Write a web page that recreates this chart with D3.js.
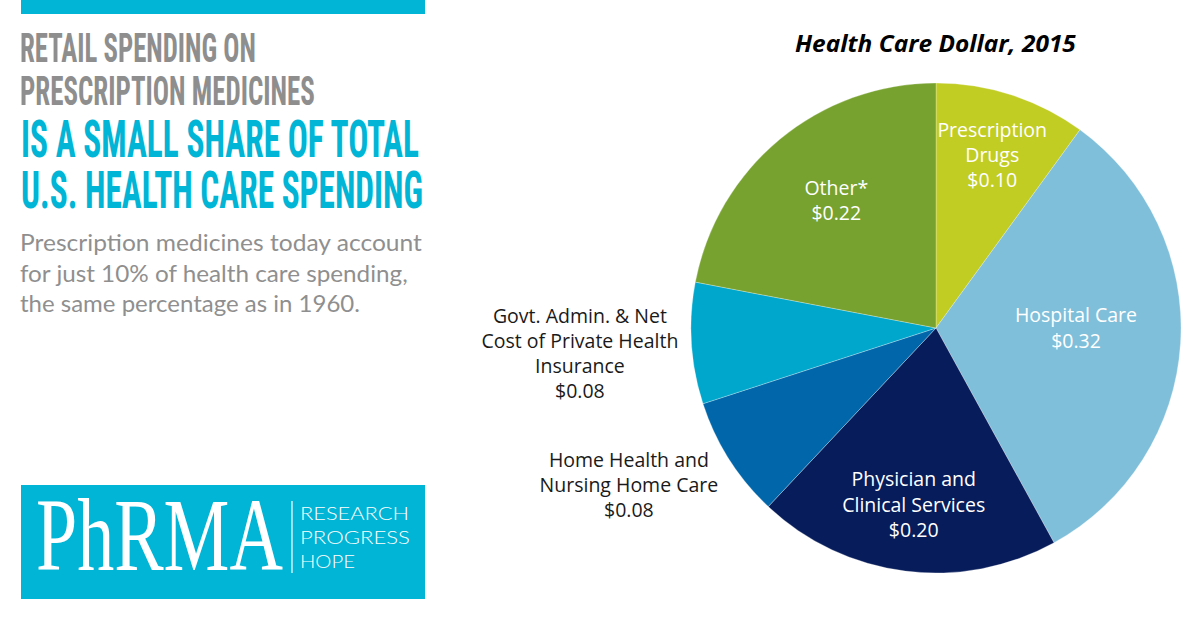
<!DOCTYPE html>
<html>
<head>
<meta charset="utf-8">
<script src="https://cdn.jsdelivr.net/npm/d3@7"></script>
<style>
  html, body { margin: 0; padding: 0; background: #ffffff; }
  svg { display: block; }
</style>
</head>
<body>
<svg id="chart" width="1200" height="628"></svg>
<script>
// ---- data ----
const categories = ["Prescription Drugs", "Hospital Care", "Physician and Clinical Services",
  "Home Health and Nursing Home Care", "Govt. Admin. & Net Cost of Private Health Insurance", "Other*"];
const values = [0.10, 0.32, 0.20, 0.08, 0.08, 0.22];
const labelLines = [
  ["Prescription", "Drugs"],
  ["Hospital Care"],
  ["Physician and", "Clinical Services"],
  ["Home Health and", "Nursing Home Care"],
  ["Govt. Admin. & Net", "Cost of Private Health", "Insurance"],
  ["Other*"]
];
const sliceColors = ["#c1cd23", "#7fbfda", "#071c5a", "#0266aa", "#00a7cc", "#77a22f"];
const labelInside = [true, true, true, false, false, true];
const labelRadius = [182, 140, 178, 345, 357, 162];
const labelShift = [0, -3.6, 0, 5.3, -0.5, 1.6];
const chartTitle = "Health Care Dollar, 2015";
const headingGray = ["RETAIL SPENDING ON", "PRESCRIPTION MEDICINES"];
const headingBlue = ["IS A SMALL SHARE OF TOTAL", "U.S. HEALTH CARE SPENDING"];
const bodyLines = ["Prescription medicines today account", "for just 10% of health care spending,", "the same percentage as in 1960."];
const logoText = "PhRMA";
const taglines = ["RESEARCH", "PROGRESS", "HOPE"];

const svg = d3.select("#chart");
const cyan = "#00b5d5";

// helper: squeeze a text horizontally to a target width via transform (keeps bbox honest)
function fitText(sel, x, y, w) {
  const natural = sel.node().getComputedTextLength();
  const s = natural > 0 ? w / natural : 1;
  sel.attr("transform", `translate(${x},${y}) scale(${s},1)`);
}

// ---- left panel ----
svg.append("rect").attr("x", 21).attr("y", 0).attr("width", 404).attr("height", 14).attr("fill", cyan);

const headFont = "'Roboto Condensed','Liberation Sans Narrow','DejaVu Sans Condensed',Roboto,sans-serif";
const grayW = [236, 295];
headingGray.forEach((t, i) => {
  const el = svg.append("text")
    .attr("font-family", headFont).attr("font-weight", 700).attr("font-size", 41)
    .attr("fill", "#8e8e8e").text(t);
  fitText(el, 20, [62, 105][i], grayW[i]);
});
const blueW = [398, 402];
headingBlue.forEach((t, i) => {
  const el = svg.append("text")
    .attr("font-family", headFont).attr("font-weight", 700).attr("font-size", 52)
    .attr("fill", cyan).text(t);
  fitText(el, 21, [157, 208][i], blueW[i]);
});
const bodyW = [402, 388, 340];
bodyLines.forEach((t, i) => {
  const el = svg.append("text")
    .attr("font-family", "Lato, 'Open Sans', sans-serif").attr("font-size", 23)
    .attr("fill", "#8f8f8f").text(t);
  fitText(el, 20, [251, 282, 312][i], bodyW[i]);
});

// logo
svg.append("rect").attr("x", 21).attr("y", 485).attr("width", 404).attr("height", 114).attr("fill", cyan);
const logo = svg.append("text")
  .attr("font-family", "'Liberation Serif','DejaVu Serif',serif").attr("font-size", 104)
  .attr("fill", "#ffffff").text(logoText);
fitText(logo, 36, 570, 247);
svg.append("line").attr("x1", 292).attr("x2", 292).attr("y1", 501).attr("y2", 573)
  .attr("stroke", "#ffffff").attr("stroke-width", 1.2);
const tagW = [109, 110, 55];
taglines.forEach((t, i) => {
  const el = svg.append("text")
    .attr("font-family", "Lato, 'Open Sans', sans-serif").attr("font-weight", 300).attr("font-size", 17)
    .attr("fill", "#ffffff").text(t);
  fitText(el, 300, [520, 544, 568][i], tagW[i]);
});

// ---- pie ----
const cx = 936, cy = 328, R = 245;
const title = svg.append("text")
  .attr("font-family", "'Open Sans', sans-serif").attr("font-weight", 700).attr("font-style", "italic")
  .attr("font-size", 24).attr("fill", "#000000").text(chartTitle);
fitText(title, 795, 52, 281);

const pie = d3.pie().sort(null).value(d => d);
const arcs = pie(values);
const arc = d3.arc().innerRadius(0).outerRadius(R);
const g = svg.append("g").attr("transform", `translate(${cx},${cy})`);
g.selectAll("path").data(arcs).enter().append("path")
  .attr("d", arc)
  .attr("fill", (d, i) => sliceColors[i])
  .attr("stroke", "rgba(255,255,255,0.35)")
  .attr("stroke-width", 0.8);

const lh = 25.3;
arcs.forEach((d, i) => {
  const mid = (d.startAngle + d.endAngle) / 2 + labelShift[i] * Math.PI / 180;
  const lx = labelRadius[i] * Math.sin(mid);
  const ly = -labelRadius[i] * Math.cos(mid);
  const lines = labelLines[i].concat([d3.format("$.2f")(values[i])]);
  const n = lines.length;
  const first = ly - (n - 1) * lh / 2 + 7;
  const t = g.append("text").attr("text-anchor", "middle")
    .attr("font-family", "'Open Sans', sans-serif").attr("font-size", 19.5)
    .attr("fill", labelInside[i] ? "#ffffff" : "#1a1a1a");
  lines.forEach((s, k) => {
    t.append("tspan").attr("x", lx).attr("y", first + k * lh).text(s);
  });
});
</script>
</body>
</html>
